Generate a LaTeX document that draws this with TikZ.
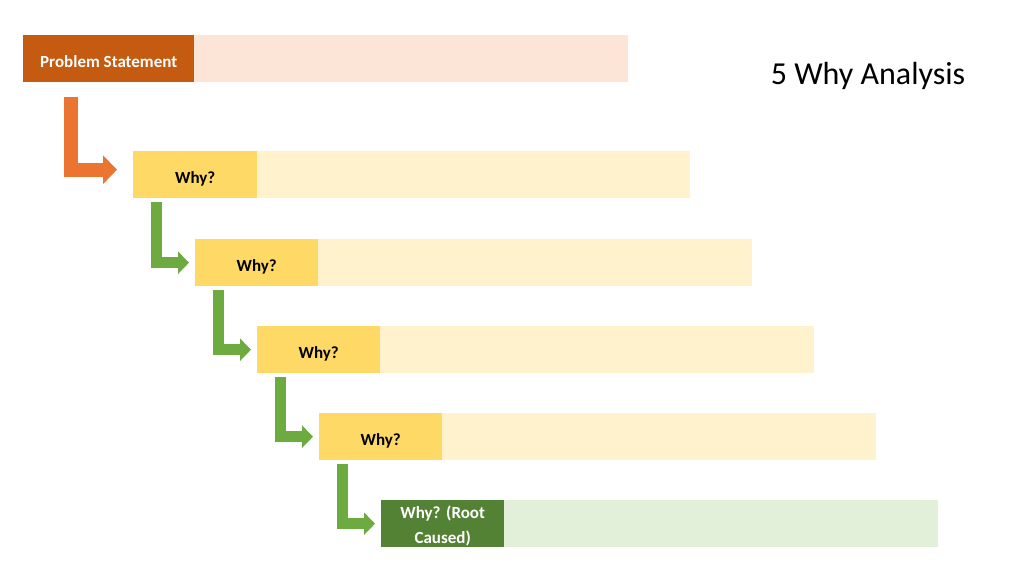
\documentclass[tikz,border=0pt]{standalone}
\usepackage{fontspec}
\setmainfont{Carlito}
\usetikzlibrary{calc,arrows.meta}
\definecolor{psdark}{HTML}{C55A11}
\definecolor{pslight}{HTML}{FCE4D6}
\definecolor{ydark}{HTML}{FFD966}
\definecolor{ylight}{HTML}{FFF2CC}
\definecolor{gdark}{HTML}{548235}
\definecolor{glight}{HTML}{E2F0D9}
\definecolor{orarrow}{HTML}{EB7430}
\definecolor{grarrow}{HTML}{6DAA3F}
\newcommand{\lowtxt}[1]{\raisebox{-3pt}[\height][0pt]{#1}}
\tikzset{
  box/.style={anchor=north west, inner sep=0pt, minimum height=47pt, align=center,
    font=\fontsize{17}{25}\selectfont\bfseries},
  bar/.style={anchor=north west, inner sep=0pt, minimum height=47pt},
  orarr/.style={draw=orarrow, line width=14pt, line join=miter,
    -{Triangle[width=28pt,length=14pt]}},
  grarr/.style={draw=grarrow, line width=11pt, line join=miter,
    -{Triangle[width=22pt,length=11pt]}},
}
\frenchspacing
\begin{document}
\begin{tikzpicture}[x=1pt,y=-1pt]
\useasboundingbox (0,0) rectangle (1024,576);
% bars
\node[bar, fill=pslight, minimum width=434pt] (b0) at (194,35) {};
\node[bar, fill=ylight, minimum width=433pt] (b1) at (257,151) {};
\node[bar, fill=ylight, minimum width=434pt] (b2) at (318,239) {};
\node[bar, fill=ylight, minimum width=434pt] (b3) at (380,326) {};
\node[bar, fill=ylight, minimum width=434pt] (b4) at (442,413) {};
\node[bar, fill=glight, minimum width=434pt] (b5) at (504,500) {};
% head boxes
\node[box, fill=psdark, text=white, minimum width=171pt] (ps) at (23,35) {\lowtxt{Problem Statement}};
\node[box, fill=ydark, minimum width=124pt] (w1) at (133,151) {\lowtxt{Why?}};
\node[box, fill=ydark, minimum width=123pt] (w2) at (195,239) {\lowtxt{Why?}};
\node[box, fill=ydark, minimum width=123pt] (w3) at (257,326) {\lowtxt{Why?}};
\node[box, fill=ydark, minimum width=123pt] (w4) at (319,413) {\lowtxt{Why?}};
\node[box, fill=gdark, text=white, minimum width=123pt, text width=110pt] (w5) at (381,500) {\raisebox{-1pt}[\height][0pt]{\shortstack{Why? (Root\\[6pt]Caused)}}};
% title
\node[anchor=center, font=\fontsize{32}{38}\selectfont] (title) at (868,76) {5 Why Analysis};
% arrows
\draw[orarr] ($(ps.south west)+(48,15)$) |- ($(w1.west)+(-16,-5)$);
\draw[grarr] ($(w1.south west)+(23,4)$) |- ($(w2.west)+(-6,0)$);
\draw[grarr] ($(w2.south west)+(23,4)$) |- ($(w3.west)+(-6,0)$);
\draw[grarr] ($(w3.south west)+(23,4)$) |- ($(w4.west)+(-6,0)$);
\draw[grarr] ($(w4.south west)+(23,4)$) |- ($(w5.west)+(-6,0)$);
\end{tikzpicture}
\end{document}
